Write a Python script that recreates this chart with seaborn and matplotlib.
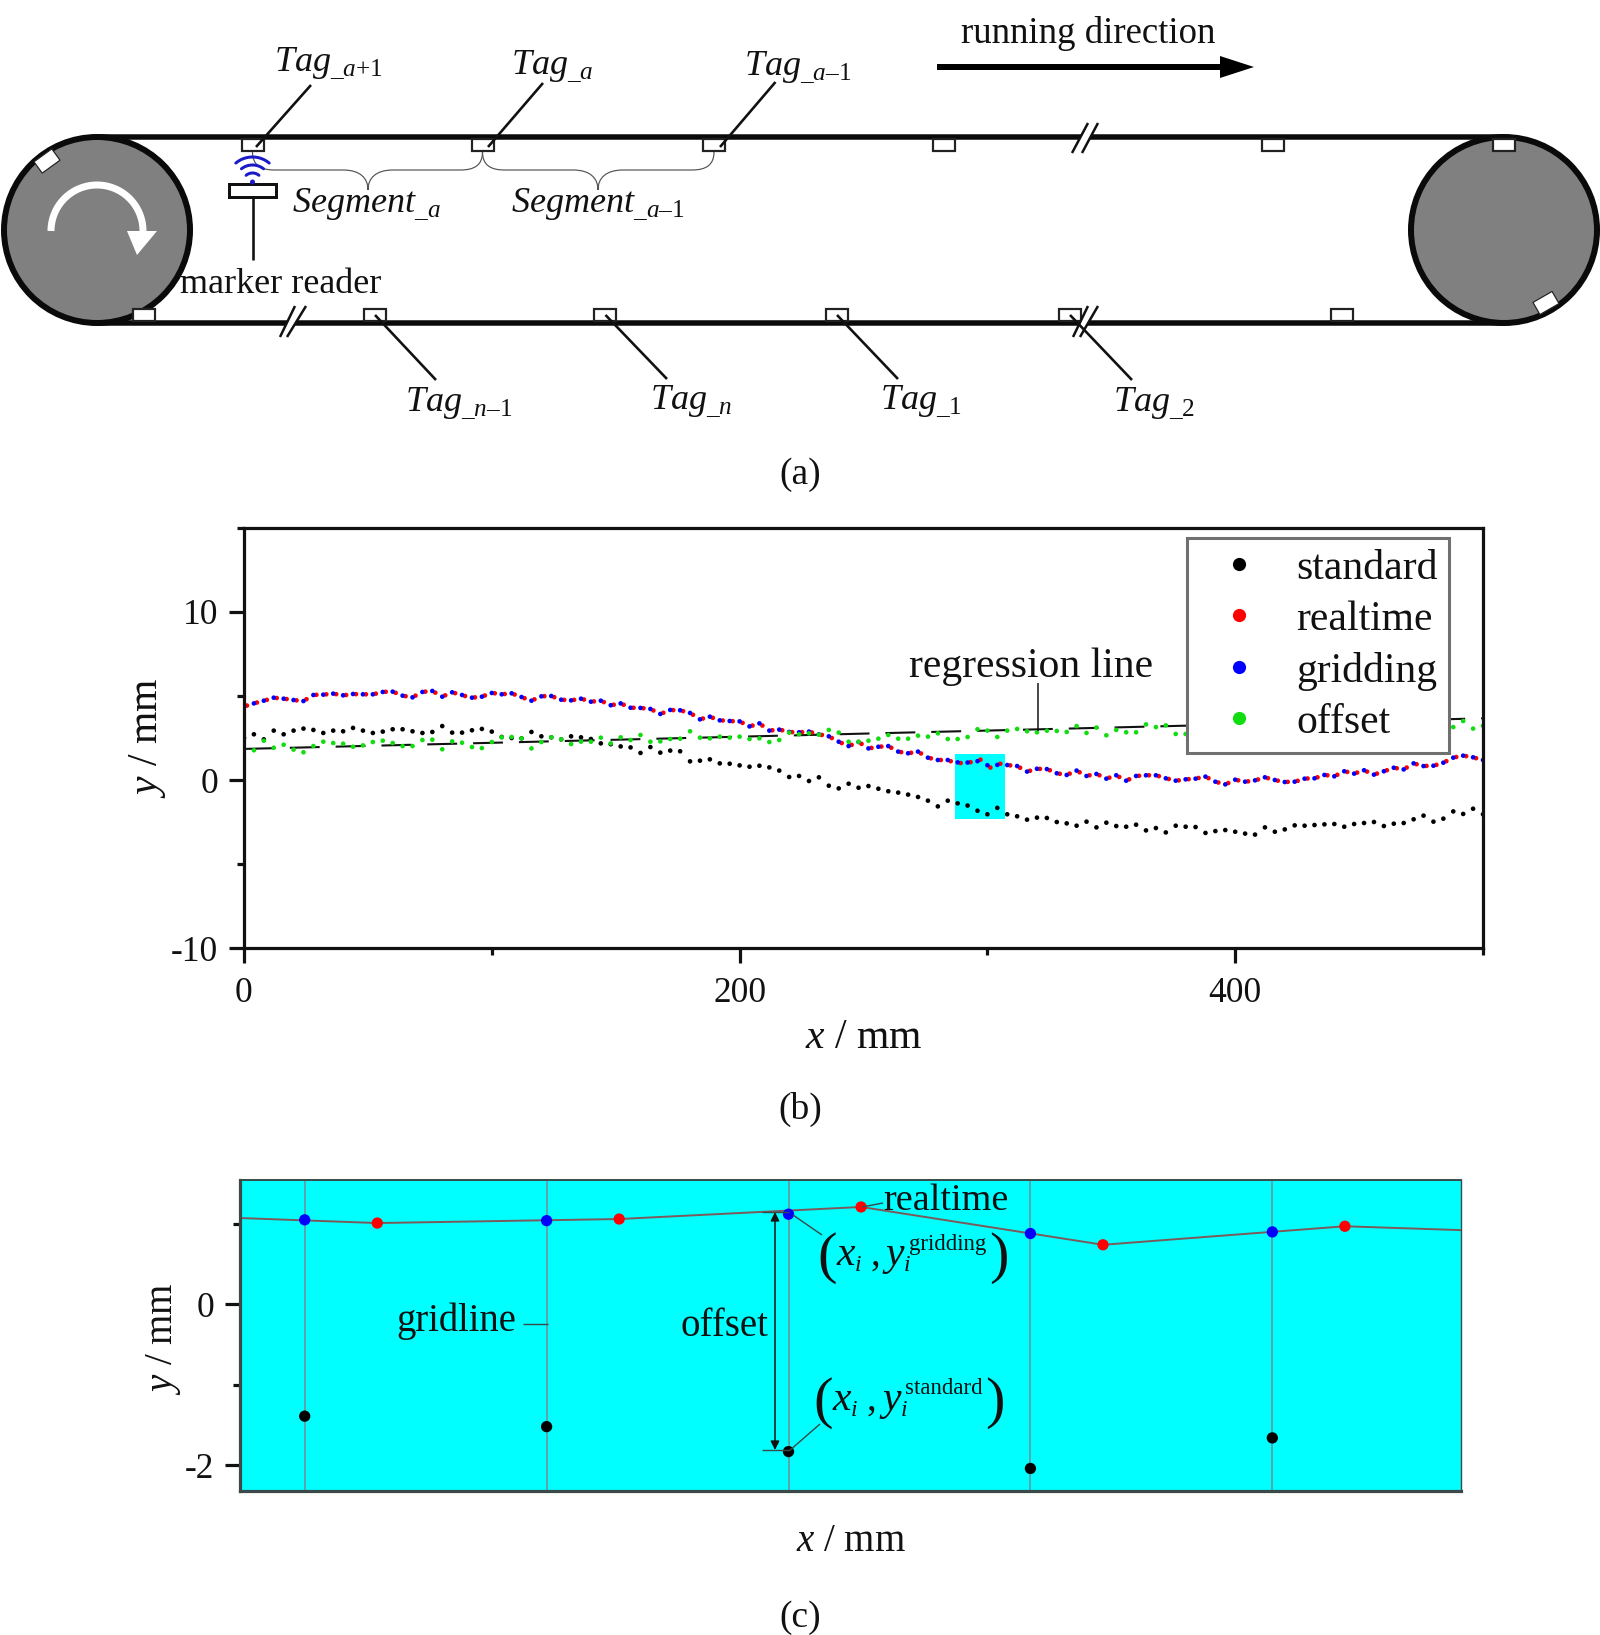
import numpy as np
import pandas as pd
import seaborn as sns
import matplotlib
matplotlib.use("Agg")
import matplotlib.pyplot as plt
from matplotlib.lines import Line2D
from matplotlib.patches import Circle, PathPatch, Polygon, Rectangle
from matplotlib.path import Path

# Values, one point every 4 mm
grid_step = 4
realtime_shift = 1.2

gridding_y = [
    4.37, 4.56, 4.72, 4.90, 4.84, 4.76, 4.70, 5.06, 5.08, 5.14,
    5.04, 5.12, 5.10, 5.10, 5.24, 5.26, 5.02, 4.92, 5.24, 5.30,
    4.96, 5.22, 5.06, 4.90, 4.96, 5.18, 5.10, 5.16, 4.94, 4.72,
    4.98, 5.00, 4.78, 4.74, 4.84, 4.66, 4.72, 4.45, 4.56, 4.30,
    4.29, 4.23, 3.93, 4.17, 4.15, 3.99, 3.61, 3.77, 3.55, 3.51,
    3.49, 3.19, 3.37, 2.94, 3.00, 2.86, 2.84, 2.88, 2.72, 2.60,
    2.28, 2.02, 2.26, 1.88, 1.98, 2.02, 1.69, 1.59, 1.69, 1.33,
    1.19, 1.19, 1.05, 1.04, 1.12, 0.88, 0.90, 0.89, 0.83, 0.50,
    0.67, 0.65, 0.40, 0.30, 0.56, 0.24, 0.36, 0.08, 0.28, -0.04,
    0.24, 0.28, 0.28, 0.10, -0.04, 0.04, 0.08, 0.20, -0.10, -0.26,
    0.02, -0.10, -0.02, 0.16, 0.00, -0.12, -0.10, 0.08, 0.10, 0.30,
    0.22, 0.52, 0.38, 0.58, 0.32, 0.52, 0.73, 0.63, 0.99, 0.83,
    0.85, 1.03, 1.33, 1.45, 1.35, 1.19,
]
realtime_y = [
    4.43, 4.61, 4.77, 4.88, 4.82, 4.74, 4.81, 5.07, 5.10, 5.11,
    5.06, 5.11, 5.10, 5.14, 5.25, 5.19, 4.99, 5.02, 5.26, 5.20,
    5.04, 5.17, 5.00, 4.92, 5.03, 5.16, 5.12, 5.09, 4.87, 4.80,
    4.99, 4.93, 4.77, 4.77, 4.79, 4.68, 4.64, 4.48, 4.48, 4.30,
    4.27, 4.14, 4.00, 4.16, 4.10, 3.88, 3.66, 3.70, 3.54, 3.50,
    3.40, 3.24, 3.24, 2.96, 2.96, 2.85, 2.85, 2.83, 2.68, 2.50,
    2.20, 2.09, 2.15, 1.91, 1.99, 1.92, 1.66, 1.62, 1.58, 1.29,
    1.19, 1.12, 1.01, 1.06, 1.21, 0.74, 0.97, 0.87, 0.73, 0.55,
    0.66, 0.58, 0.37, 0.38, 0.46, 0.28, 0.28, 0.14, 0.18, 0.04,
    0.25, 0.28, 0.23, 0.06, -0.02, 0.05, 0.12, 0.11, -0.15, -0.18,
    -0.02, -0.08, 0.03, 0.11, -0.04, -0.11, -0.05, 0.09, 0.16, 0.28,
    0.31, 0.48, 0.44, 0.50, 0.38, 0.58, 0.70, 0.74, 0.94, 0.84,
    0.90, 1.12, 1.37, 1.42, 1.30, 1.15,
]
standard_y = [
    2.50, 2.72, 2.42, 2.94, 2.72, 2.94, 3.06, 2.98, 2.80, 2.94,
    2.90, 3.10, 2.94, 2.80, 2.88, 3.02, 3.02, 2.90, 2.80, 2.86,
    3.21, 2.82, 2.82, 2.96, 3.04, 2.88, 2.56, 2.50, 2.48, 2.86,
    2.60, 2.54, 2.42, 2.60, 2.54, 2.44, 2.18, 2.13, 2.00, 1.94,
    1.61, 1.96, 1.63, 1.75, 1.71, 1.11, 1.15, 1.23, 0.99, 0.97,
    0.87, 0.79, 0.85, 0.75, 0.56, 0.18, 0.24, -0.06, 0.16, -0.34,
    -0.50, -0.22, -0.46, -0.36, -0.52, -0.67, -0.75, -0.87, -1.01, -1.23,
    -1.57, -1.23, -1.39, -1.52, -1.83, -2.04, -1.66, -2.04, -2.16, -2.36,
    -2.24, -2.26, -2.50, -2.58, -2.72, -2.48, -2.82, -2.54, -2.74, -2.78,
    -2.66, -3.00, -2.86, -3.12, -2.72, -2.78, -2.80, -3.15, -3.04, -2.98,
    -3.08, -3.19, -3.25, -2.82, -3.08, -2.94, -2.70, -2.72, -2.68, -2.64,
    -2.62, -2.78, -2.62, -2.56, -2.50, -2.74, -2.60, -2.56, -2.34, -2.12,
    -2.48, -2.30, -1.87, -2.02, -1.71, -2.04,
]
offset_y = [
    1.87, 1.77, 2.34, 1.92, 2.10, 1.81, 1.65, 2.02, 2.28, 2.20,
    2.16, 1.98, 2.06, 2.26, 2.34, 2.20, 2.02, 2.02, 2.38, 2.40,
    1.83, 2.30, 2.22, 1.96, 1.90, 2.26, 2.54, 2.56, 2.48, 1.88,
    2.26, 2.54, 2.42, 2.14, 2.28, 2.28, 2.52, 2.18, 2.54, 2.38,
    2.68, 2.28, 2.30, 2.44, 2.46, 2.90, 2.52, 2.48, 2.58, 2.52,
    2.58, 2.44, 2.48, 2.26, 2.38, 2.82, 2.72, 2.78, 2.70, 2.98,
    2.82, 2.28, 2.28, 2.34, 2.46, 2.68, 2.46, 2.46, 2.64, 2.58,
    2.78, 2.44, 2.44, 2.56, 3.02, 2.94, 2.56, 2.94, 3.04, 2.90,
    2.84, 2.94, 2.92, 2.86, 3.21, 2.80, 3.12, 2.66, 2.98, 2.84,
    2.84, 3.31, 3.15, 3.25, 2.74, 2.74, 2.88, 3.35, 2.94, 2.72,
    3.10, 3.09, 3.23, 2.98, 3.08, 2.82, 2.60, 2.80, 2.78, 2.94,
    2.84, 3.30, 3.00, 3.14, 2.82, 3.26, 3.33, 3.19, 3.33, 2.95,
    3.33, 3.33, 3.15, 3.51, 3.06, 3.23,
]
regression_x = [0, 500]
regression_y = [1.85, 3.67]

series_names = ["standard", "realtime", "gridding", "offset"]
series_colors = ["#000000", "#ff0000", "#0000ff", "#11dd11"]

b_xlim = (0, 500)
b_ylim = (-10, 15)
b_xticks = [0, 200, 400]
b_xminor = [100, 300, 500]
b_yticks = [-10, 0, 10]
b_ylabels = ["-10", "0", "10"]
b_yminor = [-5, 5, 15]

c_xlim = (286.93, 307.12)
c_ylim = (-2.32, 1.545)
c_yticks = [-2, 0]
c_ylabels = ["-2", "0"]
c_yminor = [-1, 1]

sns.set_theme(style="ticks", rc={
    "lines.scale_dashes": False, "axes.linewidth": 2.3, "axes.edgecolor": "#111111",
    "xtick.color": "#111111", "ytick.color": "#111111", "axes.labelcolor": "#111111",
    "text.color": "#111111",
})
plt.rcParams["font.family"] = ["Liberation Serif", "DejaVu Sans"]
plt.rcParams["mathtext.fontset"] = "custom"
plt.rcParams["mathtext.rm"] = "Liberation Serif"
plt.rcParams["mathtext.it"] = "Liberation Serif:italic"
plt.rcParams["mathtext.bf"] = "Liberation Serif:bold"

W, H = 1600, 1635
PX = 0.72  # one output pixel in points at dpi 100
fig = plt.figure(figsize=(W / 100, H / 100), dpi=100)


def axes_px(left, top, right, bottom):
    return fig.add_axes([left / W, 1 - bottom / H, (right - left) / W, (bottom - top) / H])


# long table for seaborn
x_grid = np.arange(len(gridding_y)) * grid_step
x_real = x_grid + realtime_shift
points = pd.concat([
    pd.DataFrame({"x": x_grid, "y": standard_y, "series": "standard"}),
    pd.DataFrame({"x": x_real, "y": realtime_y, "series": "realtime"}),
    pd.DataFrame({"x": x_grid, "y": gridding_y, "series": "gridding"}),
    pd.DataFrame({"x": x_grid, "y": offset_y, "series": "offset"}),
], ignore_index=True)
palette = dict(zip(series_names, series_colors))


def style_axis(ax, xlabel_pos, ylabel_pos, size):
    ax.set_xlabel(r"$x$ / mm", fontsize=size)
    ax.set_ylabel(r"$y$ / mm", fontsize=size)
    ax.xaxis.set_label_coords(*xlabel_pos)
    ax.yaxis.set_label_coords(*ylabel_pos)
    ax.tick_params(which="major", length=15 * PX, width=2.3, pad=8, labelsize=25.5)
    ax.tick_params(axis="x", which="major", pad=10)
    ax.tick_params(which="minor", length=7 * PX, width=2.3)


# panel (b)
ax_b = axes_px(244, 528, 1483, 948)
ax_b.add_patch(Rectangle((c_xlim[0], c_ylim[0]), c_xlim[1] - c_xlim[0], c_ylim[1] - c_ylim[0],
                         facecolor="#00ffff", edgecolor="none", zorder=0))
sns.lineplot(x=regression_x, y=regression_y, ax=ax_b, color="#111111", linewidth=1.5,
             linestyle=(0, (21.5, 11.5)), zorder=1)
sns.scatterplot(data=points, x="x", y="y", hue="series", hue_order=series_names, palette=palette,
                s=11, linewidth=0, legend=False, ax=ax_b, zorder=2)
ax_b.set_xlim(b_xlim)
ax_b.set_ylim(b_ylim)
ax_b.set_xticks(b_xticks)
ax_b.set_xticks(b_xminor, minor=True)
ax_b.set_yticks(b_yticks, labels=b_ylabels)
ax_b.set_yticks(b_yminor, minor=True)
style_axis(ax_b, (0.5, -0.168), (-0.0615, 0.5), 30)

handles = [Line2D([], [], linestyle="none", marker="o", markersize=9.5, markeredgewidth=0, color=c, label=n)
           for n, c in zip(series_names, series_colors)]
leg = ax_b.legend(handles=handles, loc="upper left", bbox_to_anchor=((1187 - 244) / 1239, 1 - (538 - 528) / 420),
                  borderaxespad=0, fontsize=30, frameon=True, fancybox=False, framealpha=1,
                  edgecolor="#707070", handlelength=1.96, handletextpad=0.396, labelspacing=0.305,
                  borderpad=0.27)
leg.get_frame().set_linewidth(2.2)
leg.set_zorder(6)

# panel (c)
ax_c = axes_px(240, 1180, 1461, 1491)
ax_c.set_facecolor("#00ffff")
for gx in points.loc[(points.series == "gridding") & points.x.between(*c_xlim), "x"]:
    ax_c.axvline(gx, color="#5f9ea8", linewidth=1.3, zorder=1)
line_part = points[(points.series == "realtime") & points.x.between(c_xlim[0] - 4, c_xlim[1] + 4)]
sns.lineplot(data=line_part, x="x", y="y", ax=ax_c, color="#7c5a5a", linewidth=1.4, zorder=2, sort=True)
sns.scatterplot(data=points[points.series != "offset"], x="x", y="y", hue="series",
                hue_order=series_names[:3], palette=palette, s=66, linewidth=0, legend=False, ax=ax_c, zorder=3)
ax_c.set_xlim(c_xlim)
ax_c.set_ylim(c_ylim)
ax_c.set_xticks([])
ax_c.set_yticks(c_yticks, labels=c_ylabels)
ax_c.set_yticks(c_yminor, minor=True)
style_axis(ax_c, (0.5, -0.103), (-0.047, 0.49), 28)
for name in ["top", "left", "right", "bottom"]:
    ax_c.spines[name].set_color("#3a4a4a")
ax_c.spines["top"].set_linewidth(1.4)
ax_c.spines["right"].set_linewidth(1.0)

# overlay in output pixels for the belt drawing and the annotations
ov = fig.add_axes([0, 0, 1, 1], facecolor="none", zorder=10)
ov.set_xlim(0, W)
ov.set_ylim(H, 0)
ov.axis("off")


def seg(x0, y0, x1, y1, lw=3, color="#111111", z=3):
    ov.plot([x0, x1], [y0, y1], color=color, linewidth=lw * PX, solid_capstyle="butt", zorder=z)


def label(x, y, s, size, **kw):
    ov.text(x, y, s, fontsize=size, ha=kw.pop("ha", "left"), va="baseline", **kw)


def brace(x0, x1, xm):
    top, flat, tip = 152, 170, 190
    verts = [(x0, top), (x0, 165), (x0 + 8, flat), (x0 + 22, flat), (xm - 25, flat), (xm - 8, flat), (xm, 178), (xm, tip),
             (xm, 178), (xm + 8, flat), (xm + 25, flat), (x1 - 22, flat), (x1 - 8, flat), (x1, 165), (x1, top)]
    codes = [Path.MOVETO] + [Path.CURVE4] * 3 + [Path.LINETO] + [Path.CURVE4] * 6 + [Path.LINETO] + [Path.CURVE4] * 3
    ov.add_patch(PathPatch(Path(verts, codes), facecolor="none", edgecolor="#555555", linewidth=1.2 * PX, zorder=2))


def rim_tag(cx, cy, pulley_x, pulley_y):
    r = np.array([pulley_x - cx, pulley_y - cy], dtype=float)
    r /= np.linalg.norm(r)
    t = np.array([-r[1], r[0]])
    c = np.array([cx, cy])
    corners = [c + a * 11 * t + b * 7 * r for a, b in [(-1, -1), (1, -1), (1, 1), (-1, 1)]]
    ov.add_patch(Polygon(corners, facecolor="white", edgecolor="#222222", linewidth=1.2 * PX, zorder=6))


def slashes(p0, p1, p2, p3):
    ov.add_patch(Polygon([p0, p1, p3, p2], facecolor="white", edgecolor="none", zorder=4))
    seg(*p0, *p1, lw=2.5, z=5)
    seg(*p2, *p3, lw=2.5, z=5)


# pulleys and belt
for cx in [97, 1504]:
    ov.add_patch(Circle((cx, 230), 93, facecolor="#808080", edgecolor="#0a0a0a", linewidth=6 * PX, zorder=2))
seg(97, 137, 1504, 137, lw=5.5, color="#0a0a0a")
seg(97, 323, 1504, 323, lw=5.5, color="#0a0a0a")

# white rotation arrow on the left pulley
theta = np.radians(np.linspace(180, 360, 60))
ov.plot(97 + 46 * np.cos(theta), 231 + 46 * np.sin(theta), color="white", linewidth=7 * PX,
        solid_capstyle="butt", zorder=5)
ov.add_patch(Polygon([(127, 231), (157, 231), (137, 255)], facecolor="white", edgecolor="none", zorder=5))

# tags on the belt
for tx in [252.5, 482.5, 714, 944, 1273, 1504]:
    ov.add_patch(Rectangle((tx - 11, 139), 22, 12, facecolor="white", edgecolor="#222222", linewidth=2.2 * PX, zorder=4))
for tx in [144, 374.5, 605, 837, 1070, 1342]:
    ov.add_patch(Rectangle((tx - 11, 309), 22, 12, facecolor="white", edgecolor="#222222", linewidth=2.2 * PX, zorder=4))
rim_tag(47, 161, 97, 230)
rim_tag(1546, 303, 1504, 230)

# leaders to tag names
for x0, y0, x1, y1 in [(256, 147, 311, 85), (488, 147, 543, 83), (720, 147, 775.5, 82),
                       (375, 315, 436, 380), (605.5, 315, 667, 379), (837, 315, 898, 379), (1070, 315, 1132, 380)]:
    seg(x0, y0, x1, y1, lw=2.6, z=5)

tag_size = 26
label(274, 71, r"$Tag_{\_a\mathrm{+}\mathrm{1}}$", tag_size)
label(511, 74, r"$Tag_{\_a}$", tag_size)
label(744, 75, r"$Tag_{\_a–\mathrm{1}}$", tag_size)
label(405, 411, r"$Tag_{\_n–\mathrm{1}}$", tag_size)
label(650, 409, r"$Tag_{\_n}$", tag_size)
label(880, 409, r"$Tag_{\_\mathrm{1}}$", tag_size)
label(1113, 411, r"$Tag_{\_\mathrm{2}}$", tag_size)
label(292, 212, r"$Segment_{\_a}$", tag_size)
label(511, 212, r"$Segment_{\_a–\mathrm{1}}$", tag_size)

brace(252.5, 482.5, 368)
brace(482.5, 714, 598)

# marker reader with its signal arcs
ov.add_patch(Rectangle((229, 184), 47, 13, facecolor="white", edgecolor="#111111", linewidth=3 * PX, zorder=4))
seg(252.5, 197, 252.5, 260, lw=2.6)
for rad, half in [(26, 40), (18, 38), (10, 40)]:
    phi = np.radians(np.linspace(-half, half, 24))
    ov.plot(252.5 + rad * np.sin(phi), 183 - rad * np.cos(phi), color="#1a1ac8", linewidth=3 * PX, zorder=5)
ov.add_patch(Circle((252.5, 182), 2.5, facecolor="#1a1ac8", edgecolor="none", zorder=5))
label(180, 293, "marker reader", 26)

# running direction arrow
label(961, 43, "running direction", 26.5)
seg(937, 67, 1222, 67, lw=6, color="#000000")
ov.add_patch(Polygon([(1220, 56), (1254, 67), (1220, 78)], facecolor="#000000", edgecolor="none", zorder=4))

# belt break marks
slashes((1072, 153), (1088, 123), (1082, 153), (1098, 123))
slashes((280, 337), (295, 306), (287, 337), (306, 306))
slashes((1073, 337), (1088, 306), (1080, 337), (1098, 306))

# panel captions
label(800, 484, "(a)", 27, ha="center")
label(800, 1119, "(b)", 27, ha="center")
label(800, 1627, "(c)", 27, ha="center")

# panel (b) annotation
label(909, 677, "regression line", 30)
seg(1037.5, 683, 1037.5, 731, lw=1.5)


# panel (c) annotations
def coord_label(left_paren, right_paren, base, x_x, y_x, sup_x, sup_base, sup):
    label(left_paren, base + 7, "(", 42)
    label(right_paren, base + 7, ")", 42)
    label(x_x, base, "x", 30, fontstyle="italic")
    label(x_x + 18, base + 6, "i", 17, fontstyle="italic")
    label(x_x + 33, base, ",", 28)
    label(y_x, base, "y", 30, fontstyle="italic")
    label(y_x + 19, base + 6, "i", 17, fontstyle="italic")
    label(sup_x, sup_base, sup, 16.5)


label(883, 1210, "realtime", 27.5)
seg(862, 1207, 883, 1203, lw=1.4, color="#3a4a4a")
coord_label(817, 989, 1265, 837, 885, 909, 1250, "gridding")
seg(793, 1215, 822, 1235, lw=1.4, color="#3a4a4a")
coord_label(813, 985, 1410, 833, 882, 905, 1394, "standard")
seg(789, 1451, 820, 1424, lw=1.4, color="#3a4a4a")

label(680, 1336, "offset", 28)
ov.annotate("", xy=(775, 1212), xytext=(775, 1450),
            arrowprops=dict(arrowstyle="<|-|>", color="#111111", linewidth=1.5 * PX, mutation_scale=13,
                            shrinkA=0, shrinkB=0))
seg(762, 1212, 789, 1212, lw=1.4, color="#3a4a4a")
seg(762, 1450, 789, 1450, lw=1.4, color="#3a4a4a")

label(396, 1331, "gridline", 27.8)
seg(523, 1324, 548, 1324, lw=1.4, color="#3a4a4a")

fig.savefig("out.png", dpi=100)
